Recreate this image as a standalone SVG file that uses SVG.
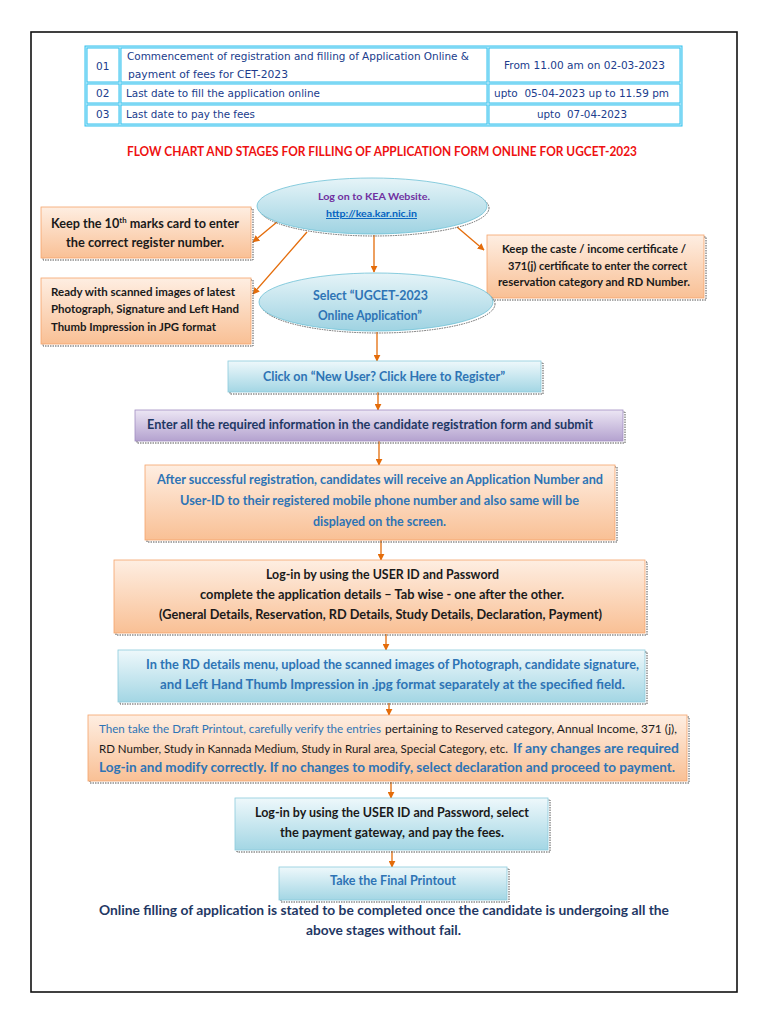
<svg xmlns="http://www.w3.org/2000/svg" width="768" height="1024" viewBox="0 0 768 1024">
<style>
.f{font-family:Lato,"Noto Sans","Liberation Sans",sans-serif;font-weight:bold;}
.r{font-weight:normal;}
.tb{font-family:"DejaVu Sans","Liberation Sans",sans-serif;font-size:10.5px;fill:#203c8c;}
.blue{fill:#2e74b5;}
.navy{fill:#1f3864;}
.blk{fill:#1a1a1a;}
.sh{fill:none;stroke:#555;stroke-width:1;stroke-dasharray:1.5 1;}
.ob{fill:url(#gO);stroke:#f5a46a;stroke-width:0.8;}
.bb{fill:url(#gB);stroke:#8ccbdc;stroke-width:0.8;}
.pb{fill:url(#gP);stroke:#a08dc0;stroke-width:0.8;}
.el{fill:url(#gE);stroke:#6cc0d6;stroke-width:0.8;}
.con{stroke:#e46c0a;stroke-width:1.3;fill:none;marker-end:url(#ah);}
.tbl{stroke:#2fc0ee;stroke-width:3;fill:none;}
.tbi{stroke:#c8effb;stroke-width:1;fill:none;}
</style>
<defs>
<linearGradient id="gO" x1="0" y1="0" x2="0" y2="1"><stop offset="0" stop-color="#feeee2"/><stop offset="1" stop-color="#f9c095"/></linearGradient>
<linearGradient id="gB" x1="0" y1="0" x2="0" y2="1"><stop offset="0" stop-color="#eef8fb"/><stop offset="1" stop-color="#a3d6e4"/></linearGradient>
<linearGradient id="gP" x1="0" y1="0" x2="0" y2="1"><stop offset="0" stop-color="#ece6f4"/><stop offset="1" stop-color="#b4a2cf"/></linearGradient>
<linearGradient id="gE" x1="0" y1="0" x2="0" y2="1"><stop offset="0" stop-color="#e6f4f8"/><stop offset="1" stop-color="#9fd3e2"/></linearGradient>
<marker id="ah" viewBox="0 0 10 10" refX="9" refY="5" markerWidth="7" markerHeight="7" markerUnits="userSpaceOnUse" orient="auto"><path d="M0,0 L10,5 L0,10 z" fill="#e46c0a"/></marker>
</defs>
<rect x="0" y="0" width="768" height="1024" fill="#fff"/>
<rect x="31" y="32" width="706" height="960" fill="none" stroke="#111" stroke-width="1.6"/>

<g id="table">
<rect class="tbl" x="86" y="47" width="595" height="78"/>
<line class="tbl" x1="86" y1="83" x2="681" y2="83"/>
<line class="tbl" x1="86" y1="104" x2="681" y2="104"/>
<line class="tbl" x1="120" y1="47" x2="120" y2="125"/>
<line class="tbl" x1="488" y1="47" x2="488" y2="125"/>
<rect class="tbi" x="86" y="47" width="595" height="78"/>
<line class="tbi" x1="86" y1="83" x2="681" y2="83"/>
<line class="tbi" x1="86" y1="104" x2="681" y2="104"/>
<line class="tbi" x1="120" y1="47" x2="120" y2="125"/>
<line class="tbi" x1="488" y1="47" x2="488" y2="125"/>
<text class="tb" x="96" y="70">01</text>
<text class="tb" x="127" y="60" textLength="342" lengthAdjust="spacingAndGlyphs">Commencement of registration and filling of Application Online &amp;</text>
<text class="tb" x="128" y="78" textLength="160" lengthAdjust="spacingAndGlyphs">payment of fees for CET-2023</text>
<text class="tb" x="504" y="69" textLength="161" lengthAdjust="spacingAndGlyphs">From 11.00 am on 02-03-2023</text>
<text class="tb" x="96" y="97">02</text>
<text class="tb" x="126" y="97" textLength="194" lengthAdjust="spacingAndGlyphs">Last date to fill the application online</text>
<text class="tb" x="494" y="97" textLength="175" lengthAdjust="spacingAndGlyphs" xml:space="preserve">upto  05-04-2023 up to 11.59 pm</text>
<text class="tb" x="96" y="118">03</text>
<text class="tb" x="126" y="118" textLength="129" lengthAdjust="spacingAndGlyphs">Last date to pay the fees</text>
<text class="tb" x="537" y="118" textLength="90" lengthAdjust="spacingAndGlyphs" xml:space="preserve">upto  07-04-2023</text>
</g>

<g id="title">
<text class="f" x="127" y="156" font-size="12.5" fill="#ee1111" textLength="510" lengthAdjust="spacingAndGlyphs">FLOW CHART AND STAGES FOR FILLING OF APPLICATION FORM ONLINE FOR UGCET-2023</text>
</g>

<g id="connectors">
<path class="con" d="M277,222 L253,242"/>
<path class="con" d="M307,232 L253,294"/>
<path class="con" d="M457,227 L484,250"/>
<path class="con" d="M374,235 L374,272"/>
<path class="con" d="M377,332 L377,361"/>
<path class="con" d="M378,392 L378,410"/>
<path class="con" d="M379,441 L379,465"/>
<path class="con" d="M381,540 L381,560"/>
<path class="con" d="M386,634 L386,650"/>
<path class="con" d="M389,703 L389,715"/>
<path class="con" d="M391,782 L391,798"/>
<path class="con" d="M392,851 L392,867"/>
</g>

<g id="n-kea">
<ellipse cx="374" cy="208" rx="115" ry="28" fill="none" stroke="#666" stroke-width="1" stroke-dasharray="1.5 1"/>
<ellipse class="el" cx="372" cy="206" rx="115" ry="28"/>
<text class="f" x="318" y="200" font-size="9.5" fill="#7030a0" textLength="112" lengthAdjust="spacingAndGlyphs">Log on to KEA Website.</text>
<text class="f" x="326" y="217" font-size="9.5" fill="#0563c1" text-decoration="underline" textLength="91" lengthAdjust="spacingAndGlyphs">http://kea.kar.nic.in</text>
</g>

<g id="n-marks">
<rect class="sh" x="43" y="209" width="210" height="51"/>
<rect class="ob" x="41" y="207" width="210" height="51"/>
<text class="f blk" x="51" y="228" font-size="13" textLength="188" lengthAdjust="spacingAndGlyphs">Keep the 10<tspan font-size="8" dy="-5">th</tspan><tspan dy="5"> marks card to enter</tspan></text>
<text class="f blk" x="66" y="247" font-size="13" textLength="158" lengthAdjust="spacingAndGlyphs">the correct register number.</text>
</g>

<g id="n-scan">
<rect class="sh" x="43" y="280" width="210" height="66"/>
<rect class="ob" x="41" y="278" width="210" height="66"/>
<text class="f blk" x="51" y="296" font-size="11.5" textLength="184" lengthAdjust="spacingAndGlyphs">Ready with scanned images of latest</text>
<text class="f blk" x="51" y="313" font-size="11.5" textLength="188" lengthAdjust="spacingAndGlyphs">Photograph, Signature and Left Hand</text>
<text class="f blk" x="51" y="331" font-size="11.5" textLength="165" lengthAdjust="spacingAndGlyphs">Thumb Impression in JPG format</text>
</g>

<g id="n-caste">
<rect class="sh" x="489" y="237" width="217" height="63"/>
<rect class="ob" x="487" y="235" width="217" height="63"/>
<text class="f blk" x="502" y="253" font-size="11.5" textLength="184" lengthAdjust="spacingAndGlyphs">Keep the caste / income certificate /</text>
<text class="f blk" x="508" y="270" font-size="11.5" textLength="179" lengthAdjust="spacingAndGlyphs">371(j) certificate to enter the correct</text>
<text class="f blk" x="498" y="286" font-size="11.5" textLength="192" lengthAdjust="spacingAndGlyphs">reservation category and RD Number.</text>
</g>

<g id="n-select">
<ellipse cx="378" cy="304" rx="117" ry="29" fill="none" stroke="#666" stroke-width="1" stroke-dasharray="1.5 1"/>
<ellipse class="el" cx="376" cy="302" rx="117" ry="29"/>
<text class="f blue" x="313" y="300" font-size="13" textLength="115" lengthAdjust="spacingAndGlyphs">Select “UGCET-2023</text>
<text class="f blue" x="318" y="320" font-size="13" textLength="104" lengthAdjust="spacingAndGlyphs">Online Application”</text>
</g>

<g id="n-newuser">
<rect class="sh" x="230" y="363" width="313" height="31"/>
<rect class="bb" x="228" y="361" width="313" height="31"/>
<text class="f blue" x="263" y="381" font-size="12.5" textLength="242" lengthAdjust="spacingAndGlyphs">Click on “New User? Click Here to Register”</text>
</g>

<g id="n-enter">
<rect class="sh" x="137" y="412" width="488" height="31"/>
<rect class="pb" x="135" y="410" width="488" height="31"/>
<text class="f navy" x="147" y="429" font-size="12.5" textLength="446" lengthAdjust="spacingAndGlyphs">Enter all the required information in the candidate registration form and submit</text>
</g>

<g id="n-after">
<rect class="sh" x="147" y="467" width="470" height="75"/>
<rect class="ob" x="145" y="465" width="470" height="75"/>
<text class="f blue" x="157" y="484" font-size="12.5" textLength="446" lengthAdjust="spacingAndGlyphs">After successful registration, candidates will receive an Application Number and</text>
<text class="f blue" x="180" y="505" font-size="12.5" textLength="399" lengthAdjust="spacingAndGlyphs">User-ID to their registered mobile phone number and also same will be</text>
<text class="f blue" x="313" y="526" font-size="12.5" textLength="133" lengthAdjust="spacingAndGlyphs">displayed on the screen.</text>
</g>

<g id="n-login">
<rect class="sh" x="116" y="562" width="531" height="73"/>
<rect class="ob" x="114" y="560" width="531" height="73"/>
<text class="f blk" x="266" y="579" font-size="12.5" textLength="233" lengthAdjust="spacingAndGlyphs">Log-in by using the USER ID and Password</text>
<text class="f blk" x="200" y="599" font-size="12.5" textLength="364" lengthAdjust="spacingAndGlyphs">complete the application details – Tab wise - one after the other.</text>
<text class="f blk" x="159" y="619" font-size="12.5" textLength="443" lengthAdjust="spacingAndGlyphs">(General Details, Reservation, RD Details, Study Details, Declaration, Payment)</text>
</g>

<g id="n-rd">
<rect class="sh" x="120" y="652" width="527" height="52"/>
<rect class="bb" x="118" y="650" width="527" height="52"/>
<text class="f blue" x="146" y="669" font-size="12.5" textLength="493" lengthAdjust="spacingAndGlyphs">In the RD details menu, upload the scanned images of Photograph, candidate signature,</text>
<text class="f blue" x="160" y="689" font-size="12.5" textLength="465" lengthAdjust="spacingAndGlyphs">and Left Hand Thumb Impression in .jpg format separately at the specified field.</text>
</g>

<g id="n-draft">
<rect class="sh" x="90" y="717" width="599" height="66"/>
<rect class="ob" x="88" y="715" width="599" height="66"/>
<text class="f r blue" x="99" y="733" font-size="11.5" textLength="282" lengthAdjust="spacingAndGlyphs">Then take the Draft Printout, carefully verify the entries</text>
<text class="f r blk" x="385" y="733" font-size="11.5" textLength="292" lengthAdjust="spacingAndGlyphs">pertaining to Reserved category, Annual Income, 371 (j),</text>
<text class="f r blk" x="99" y="753" font-size="11.5" textLength="409" lengthAdjust="spacingAndGlyphs">RD Number, Study in Kannada Medium, Study in Rural area, Special Category, etc.</text>
<text class="f blue" x="513" y="753" font-size="12.5" textLength="166" lengthAdjust="spacingAndGlyphs">If any changes are required</text>
<text class="f blue" x="99" y="772" font-size="12.5" textLength="576" lengthAdjust="spacingAndGlyphs">Log-in and modify correctly. If no changes to modify, select declaration and proceed to payment.</text>
</g>

<g id="n-pay">
<rect class="sh" x="237" y="800" width="313" height="52"/>
<rect class="bb" x="235" y="798" width="313" height="52"/>
<text class="f blk" x="255" y="817" font-size="12.5" textLength="274" lengthAdjust="spacingAndGlyphs">Log-in by using the USER ID and Password, select</text>
<text class="f blk" x="280" y="837" font-size="12.5" textLength="224" lengthAdjust="spacingAndGlyphs">the payment gateway, and pay the fees.</text>
</g>

<g id="n-final">
<rect class="sh" x="281" y="869" width="228" height="33"/>
<rect class="bb" x="279" y="867" width="228" height="33"/>
<text class="f blue" x="330" y="885" font-size="12.5" textLength="126" lengthAdjust="spacingAndGlyphs">Take the Final Printout</text>
</g>

<g id="footer">
<text class="f navy" x="99" y="915" font-size="13.5" textLength="570" lengthAdjust="spacingAndGlyphs">Online filling of application is stated to be completed once the candidate is undergoing all the</text>
<text class="f navy" x="306" y="935" font-size="13.5" textLength="155" lengthAdjust="spacingAndGlyphs">above stages without fail.</text>
</g>
</svg>
